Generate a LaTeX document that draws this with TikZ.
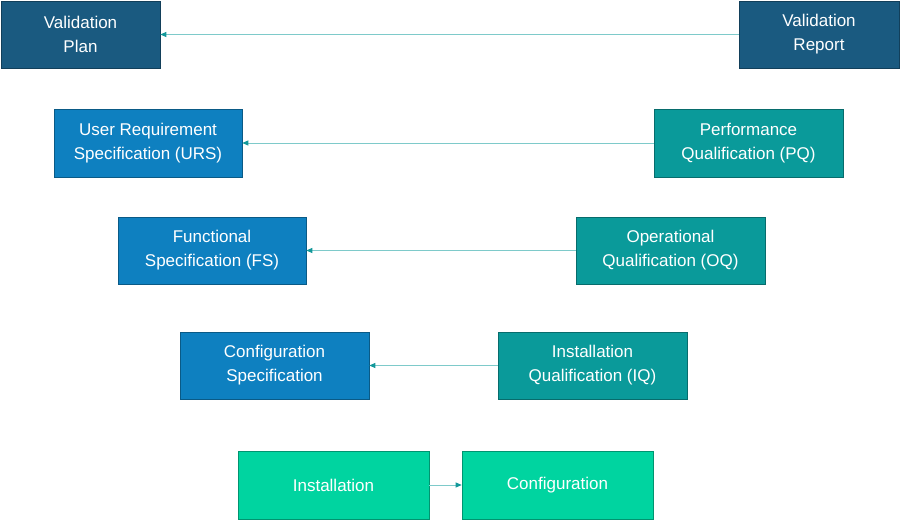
\documentclass[tikz,border=0pt]{standalone}
\usepackage{fontspec}
\setmainfont{Liberation Sans}
\usetikzlibrary{arrows.meta}
\definecolor{cdark}{HTML}{1A5A80}
\definecolor{cblue}{HTML}{0E80C0}
\definecolor{cteal}{HTML}{0A9A9A}
\definecolor{cgreen}{HTML}{00D4A0}
\definecolor{cline}{HTML}{7ECACA}
\definecolor{ctip}{HTML}{13989A}
\begin{document}
\begin{tikzpicture}[x=1pt,y=-1pt,
  box/.style={draw=#1!70!black,line width=0.6pt,fill=#1,text=white,align=center,
    font=\fontsize{17}{24}\selectfont,inner sep=0pt},
  arr/.style={draw=cline,line width=0.8pt,-{Triangle[length=6pt,width=5pt,fill=ctip,color=ctip]}}]
\useasboundingbox (0,0) rectangle (900,521);
\newcommand\bx[7]{\node[box=#6,minimum width=#3-#2,minimum height=#5-#4] (#1) at ({(#2+#3)/2},{(#4+#5)/2}) {#7};}
\bx{vp}{1}{160}{1}{68}{cdark}{Validation\\Plan}
\bx{vr}{739}{899}{1}{68}{cdark}{Validation\\Report}
\bx{urs}{54}{242}{109}{177}{cblue}{User Requirement\\Specification (URS)}
\bx{pq}{654}{843}{109}{177}{cteal}{Performance\\Qualification (PQ)}
\bx{fs}{118}{306}{217}{284}{cblue}{Functional\\Specification (FS)}
\bx{oq}{576}{765}{217}{284}{cteal}{Operational\\Qualification (OQ)}
\bx{cs}{180}{369}{332}{399}{cblue}{Configuration\\Specification}
\bx{iq}{498}{687}{332}{399}{cteal}{Installation\\Qualification (IQ)}
\bx{ins}{238}{429}{451}{519}{cgreen}{Installation}
\bx{cfg}{462}{653}{451}{519}{cgreen}{Configuration}
\draw[arr] (vr) -- (vp);
\draw[arr] (pq) -- (urs);
\draw[arr] (oq) -- (fs);
\draw[arr] (iq) -- (cs);
\draw[arr] (ins) -- (cfg);
\end{tikzpicture}
\end{document}
